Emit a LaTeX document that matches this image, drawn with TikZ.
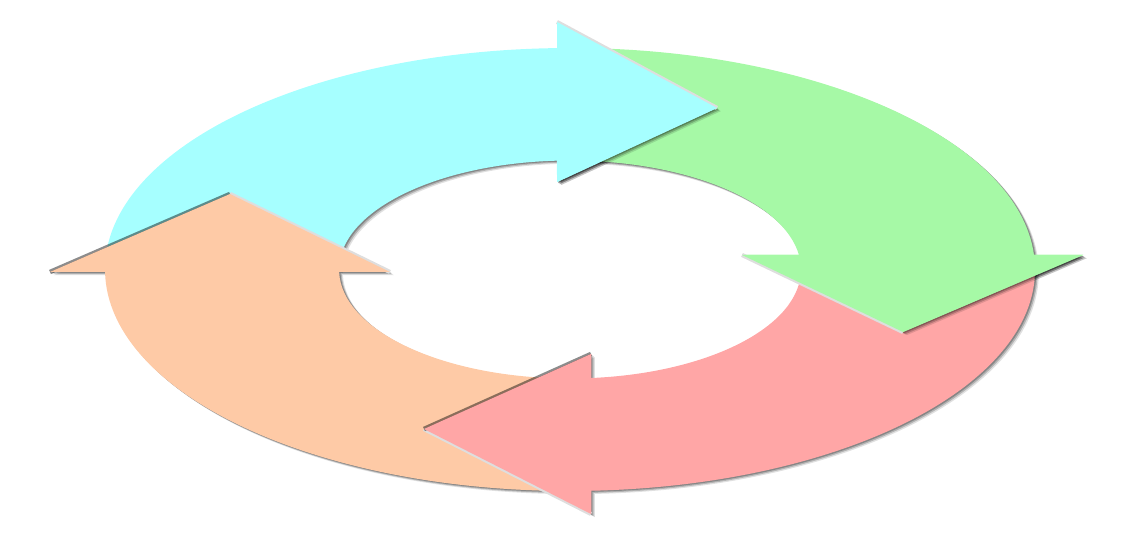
\documentclass[tikz,border=0pt]{standalone}
\usetikzlibrary{shadows}
\definecolor{cyanarrow}{RGB}{166,255,255}
\definecolor{greenarrow}{RGB}{166,249,166}
\definecolor{redarrow}{RGB}{255,166,166}
\definecolor{peacharrow}{RGB}{254,202,166}
\tikzset{
  ring/.style={draw=none,
    drop shadow={shadow xshift=2.2pt, shadow yshift=-1.8pt, opacity=.12, fill=black},
    drop shadow={shadow xshift=1.5pt, shadow yshift=-1.2pt, opacity=.2, fill=black},
    drop shadow={shadow xshift=.8pt, shadow yshift=-.6pt, opacity=.25, fill=black}},
  outer/.style={x radius=465, y radius=221.5},
  inner/.style={x radius=231, y radius=109},
  lightedge/.style={draw=black!13, line width=2.4pt},
  darkedge/.style={draw=black, opacity=.45, line width=2.6pt}
}
\begin{document}
\begin{tikzpicture}[x=0.02cm, y=0.02cm]
\useasboundingbox (0,0) rectangle (1130,540);
\begin{scope}[shift={(570,270.5)}]
\coordinate (C) at (0,0);
% heads
\coordinate (c1) at (-13,247.5);
\coordinate (c2) at (147,161.5);
\coordinate (c3) at (-13,87.5);
\coordinate (g1) at (513,14.5);
\coordinate (g2) at (333,-62.5);
\coordinate (g3) at (172,14.5);
\coordinate (r1) at (21,-244.5);
\coordinate (r2) at (-146,-159.5);
\coordinate (r3) at (21,-84.5);
\coordinate (p1) at (-520,-2.5);
\coordinate (p2) at (-340,75.5);
\coordinate (p3) at (-180,-2.5);
% cyan
\fill[ring, cyanarrow] (180:465 and 221.5) arc[start angle=180, end angle=91.6, outer]
  -- (c1) -- (c2) -- (c3) -- (93.23:231 and 109) arc[start angle=93.23, end angle=180, inner] -- cycle;
% green
\fill[ring, greenarrow] (90:465 and 221.5) arc[start angle=90, end angle=3.753, outer]
  -- (g1) -- (g2) -- (g3) -- (7.645:231 and 109) arc[start angle=7.645, end angle=90, inner] -- cycle;
% red
\fill[ring, redarrow] (0:465 and 221.5) arc[start angle=0, end angle=-87.41, outer]
  -- (r1) -- (r2) -- (r3) -- (-84.78:231 and 109) arc[start angle=-84.78, end angle=0, inner] -- cycle;
% peach
\fill[ring, peacharrow] (270:465 and 221.5) arc[start angle=270, end angle=180.647, outer]
  -- (p1) -- (p2) -- (p3) -- (181.314:231 and 109) arc[start angle=181.314, end angle=270, inner] -- cycle;
% heads again, each over the next arrow
\fill[ring, cyanarrow] (c1) -- (c2) -- (c3) -- cycle;
\fill[ring, greenarrow] (g1) -- (g2) -- (g3) -- cycle;
\fill[redarrow] (r1) -- (r2) -- (r3) -- cycle;
% edges of the heads
\draw[lightedge] (c1) -- (c2);
\draw[lightedge] (g3) -- (g2);
\draw[lightedge] (r1) -- (r2);
\draw[lightedge] (p3) -- (p2);
\draw[darkedge] (r3) -- (r2);
\draw[darkedge] (p1) -- (p2);
\fill[cyanarrow] (c1) -- (c2) -- (c3) -- cycle;
\fill[greenarrow] (g1) -- (g2) -- (g3) -- cycle;
\fill[redarrow] (r1) -- (r2) -- (r3) -- cycle;
\fill[peacharrow] (p1) -- (p2) -- (p3) -- cycle;
\end{scope}
\end{tikzpicture}
\end{document}
